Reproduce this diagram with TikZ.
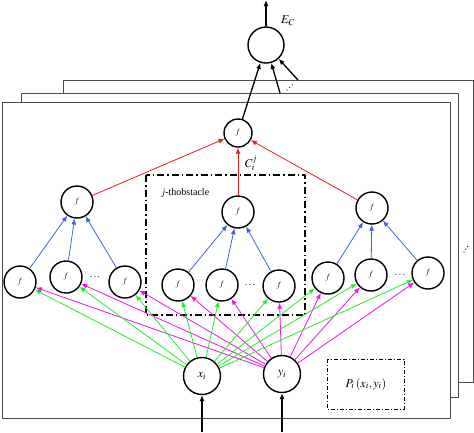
\documentclass[tikz,border=0pt]{standalone}
\usepackage{mathptmx}
\usepackage{fontspec}
\setmainfont{Liberation Serif}
\usetikzlibrary{arrows.meta}
\definecolor{redE}{RGB}{232,30,30}
\definecolor{blueE}{RGB}{60,100,225}
\definecolor{greenE}{RGB}{40,235,40}
\definecolor{magE}{RGB}{235,20,235}
\begin{document}
\begin{tikzpicture}[x=1pt,y=-1pt,>={Latex[length=6pt,width=5pt]},line join=round,
    neuron/.style={circle,draw,line width=1.4pt,minimum size=32pt,inner sep=0pt,font=\footnotesize},
    sheet/.style={draw=black!70,line width=0.9pt,fill=white},
    link/.style={->,line width=0.8pt}]
    \useasboundingbox (0,0) rectangle (474,432);
    % stacked sheets
    \draw[sheet] (63,80) rectangle (473,382);
    \draw[sheet] (21,93) rectangle (458,397);
    \draw[sheet] (2,102) rectangle (450,418);
    \foreach \k in {0,1,2} {
        \fill (287+2.6*\k,90-2.6*\k) circle (0.6pt);
        \fill (464+1.8*\k,252-2.8*\k) circle (0.6pt);
    }
    % boxes
    \draw[line width=1.6pt,dash pattern=on 7pt off 3pt on 1.5pt off 3pt] (146,175) rectangle (305,315);
    \draw[line width=0.8pt,dash pattern=on 4pt off 2pt on 1pt off 2pt] (327,359) rectangle (404,409);
    \node (obs) at (185,193) {$j$-thobstacle};
    \node[font=\large] (Pi) at (366,384) {$P_i\left(x_i,y_i\right)$};
    % neurons
    \node[neuron,minimum size=36pt] (E) at (266,45) {};
    \node[neuron,minimum size=28pt] (top) at (238,133) {$f$};
    \node[neuron] (mL) at (77,202) {$f$};
    \node[neuron] (mC) at (238,212) {$f$};
    \node[neuron] (mR) at (372,208) {$f$};
    \foreach \n/\x/\y in {1/20/282,2/66/277,3/125/282,4/178/285,5/222/285,6/279/286,7/328/278,8/371/275,9/428/273}
        \node[neuron] (b\n) at (\x,\y) {$f$};
    \foreach \x/\y in {95/277,250/285,400/275} \node at (\x,\y) {$\cdots$};
    \node[neuron,minimum size=37pt,font=\large] (xi) at (202,376) {$x_i$};
    \node[neuron,minimum size=37pt,font=\large] (yi) at (282,374) {$y_i$};
    % connections
    \foreach \n in {1,2,3} \draw[link,blueE] (b\n) -- (mL);
    \foreach \n in {4,5,6} \draw[link,blueE] (b\n) -- (mC);
    \foreach \n in {7,8,9} \draw[link,blueE] (b\n) -- (mR);
    \foreach \m in {mL,mC,mR} \draw[link,redE] (\m) -- (top);
    \foreach \n in {1,...,9} {
        \draw[link,greenE] (xi) -- (b\n);
        \draw[link,magE] (yi) -- (b\n);
    }
    \node[font=\large] (Cij) at (251,163) {$C_i^j$};
    \coordinate (s2) at (280,93);
    \coordinate (s3) at (298,80);
    \coordinate (out) at (266,0);
    \coordinate (inx) at (202,432);
    \coordinate (iny) at (282,432);
    \draw[->,line width=1.3pt] (top) -- (E);
    \draw[->,line width=1.3pt] (s2) -- (E);
    \draw[->,line width=1.3pt] (s3) -- (E);
    \draw[->,line width=2pt] (E) -- (out);
    \draw[->,line width=1.3pt] (inx) -- (xi);
    \draw[->,line width=1.3pt] (iny) -- (yi);
    \node[font=\large] (Ec) at (288,21) {$E_C$};
\end{tikzpicture}
\end{document}
